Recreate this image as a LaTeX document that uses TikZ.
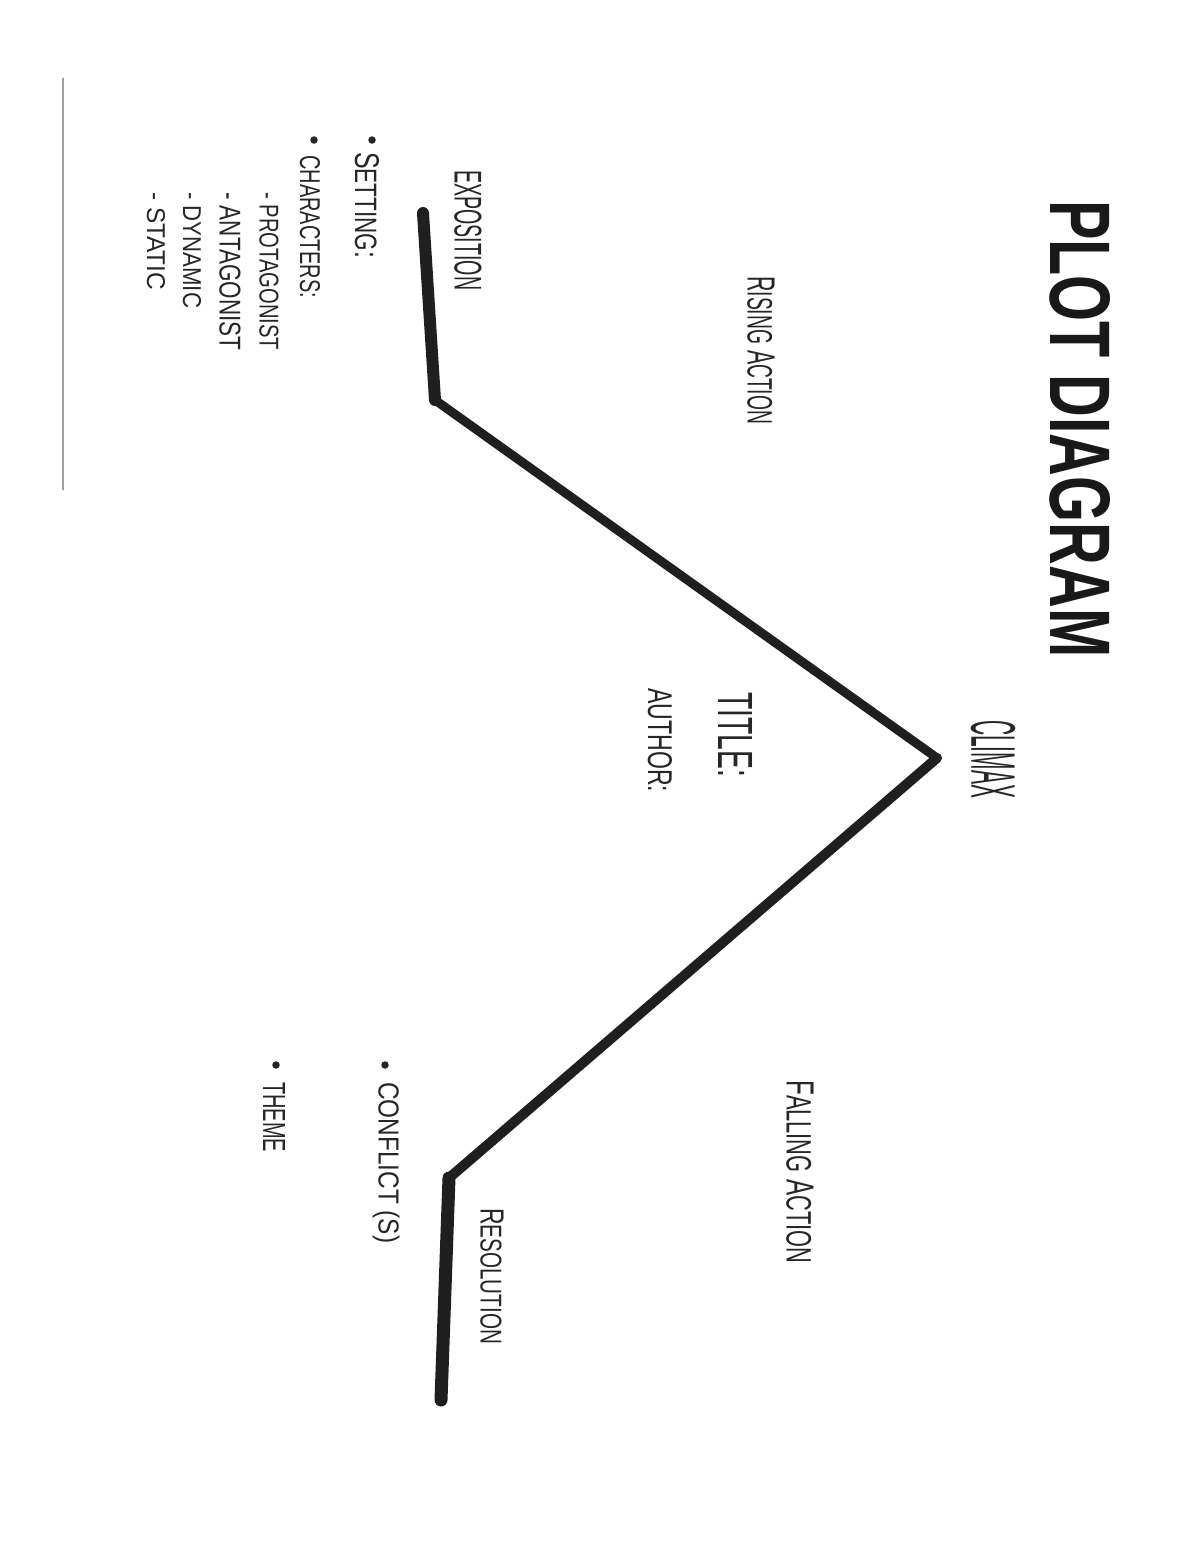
\documentclass[tikz,border=0pt]{standalone}
\usepackage{fontspec}
\setmainfont{Liberation Sans}
\usepackage{graphicx}
\newcommand{\hw}[3]{\resizebox{#1pt}{#2pt}{#3}}
\begin{document}
\begin{tikzpicture}[x=1pt,y=-1pt,
  lab/.style={rotate=-90,anchor=west,inner sep=0pt,text=black!85},
  plotline/.style={draw=black!88,line cap=round,line join=round},
  bulletdot/.style={circle,fill=black!85,inner sep=0pt,minimum size=7.5pt}]
\useasboundingbox (0,0) rectangle (1200,1553);
\fill[white] (0,0) rectangle (1200,1553);
% scanner edge
\draw[gray!75,line width=2.5pt] (63,78) -- (63,490);
% title
\node[lab,text=black!90] (title) at (1080,200) {\hw{457}{60}{\bfseries PLOT DIAGRAM}};
% plot line
\coordinate (p1) at (423,213);
\coordinate (p2) at (435,400);
\coordinate (p3) at (937,758);
\coordinate (p4) at (449,1178);
\coordinate (p5) at (441,1400);
\draw[plotline,line width=12pt] (p1) -- (p2);
\draw[plotline,line width=9pt] (p2) -- (p3);
\draw[plotline,line width=10pt] (p3) -- (p4);
\draw[plotline,line width=13pt] (p4) -- (p5);
% labels
\node[lab] (expo) at (468,170) {\hw{120}{27}{EXPOSITION}};
\node[lab] (rising) at (761,276) {\hw{148}{27}{R{\small ISING} A{\small CTION}}};
\node[lab] (climax) at (993,720) {\hw{78}{44}{CLIMAX}};
\node[lab] (title2) at (735,692) {\hw{85}{34}{TITLE:}};
\node[lab] (author) at (660,688) {\hw{104}{24}{AUTHOR:}};
\node[lab] (falling) at (800,1080) {\hw{183}{27}{F{\small ALLING} A{\small CTION}}};
\node[lab] (resol) at (492,1208) {\hw{136}{23}{R{\small ESOLUTION}}};
% left list
\node[bulletdot] (b1) at (372,140) {};
\node[lab] (setting) at (367,152) {\hw{106}{24}{S{\small ETTING}:}};
\node[bulletdot] (b2) at (314,140) {};
\node[lab] (chars) at (310,155) {\hw{143}{20}{CHARACTERS:}};
\node[lab] (prot) at (269,192) {\hw{158}{19}{- PROTAGONIST}};
\node[lab] (antag) at (230,192) {\hw{158}{21}{- ANTAGONIST}};
\node[lab] (dyn) at (192,192) {\hw{116}{18}{- DYNAMIC}};
\node[lab] (stat) at (156,192) {\hw{98}{18}{- STATIC}};
% right list
\node[bulletdot] (b3) at (385,1065) {};
\node[lab] (conf) at (386,1082) {\hw{161}{21}{CONFLICT (S)}};
\node[bulletdot] (b4) at (276,1065) {};
\node[lab] (theme) at (274,1082) {\hw{70}{22}{THEME}};
\end{tikzpicture}
\end{document}
